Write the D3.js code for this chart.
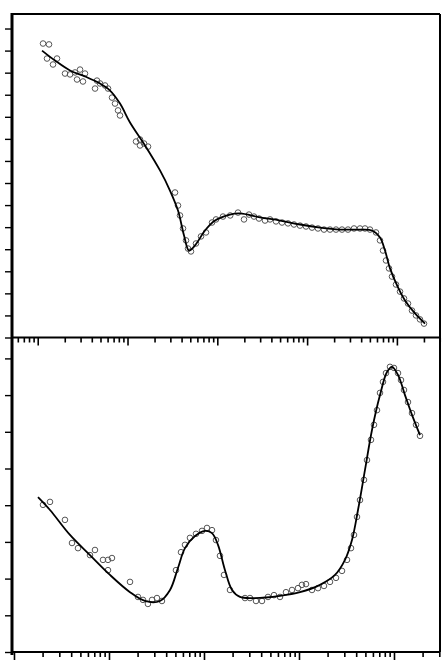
<!DOCTYPE html>
<html><head><meta charset="utf-8">
<script src="https://cdn.jsdelivr.net/npm/d3@7"></script>
<style>html,body{margin:0;padding:0;background:#fff;}svg{display:block;}</style>
</head><body>
<svg id="c" width="447" height="661"></svg>
<script>
// ---------- DATA ----------
// Top panel: fitted curve
const topCurveX = [1.117,1.558,2.29,3.36,4.94,6.39,8.25,10.66,15.66,23.0,29.7,36.5,42.6,48.4,56.4,73.0,94.3,138.5,178.9,298.9,499,833,1392,2324,3882,5281,6482,7372,8380,10285,12310,15910,20560];
const topCurveY = [13.0,12.55,12.10,11.83,11.51,11.19,10.60,9.74,8.70,7.57,6.66,5.75,4.62,3.94,4.17,4.85,5.30,5.57,5.62,5.44,5.30,5.12,4.98,4.89,4.89,4.85,4.53,3.94,3.13,2.27,1.68,1.09,0.63];
// Top panel: measured points
const topPtsX = [1.146,1.336,1.269,1.480,1.640,2.014,2.29,2.60,2.96,3.36,2.74,3.19,4.35,4.57,4.94,5.62,6.07,6.72,7.26,7.84,8.25,12.44,13.78,15.27,16.92,13.78,33.8,36.5,38.4,41.5,44.8,47.2,50.9,57.9,65.8,74.8,87.3,96.7,115.7,139.2,170,198.3,225.4,256.3,291.3,339.8,386.3,450.6,525.5,612.8,714.7,833,972,1134,1322,1542,1799,2098,2447,2854,3330,3882,4414,5016,5852,6482,7003,7560,8166,8818,9772,10827,12000,13290,14730,16320,18080,20040];
const topPtsY = [13.32,13.28,12.64,12.37,12.64,11.96,11.92,12.01,12.14,11.96,11.69,11.60,11.28,11.64,11.51,11.42,11.28,10.87,10.60,10.29,10.06,8.88,8.70,8.79,8.65,8.97,6.57,5.98,5.53,4.94,4.40,4.03,3.90,4.26,4.58,4.76,5.21,5.35,5.48,5.53,5.66,5.35,5.57,5.48,5.39,5.30,5.35,5.26,5.21,5.17,5.12,5.07,5.03,4.98,4.94,4.89,4.89,4.89,4.89,4.89,4.94,4.94,4.94,4.89,4.76,4.40,3.94,3.49,3.13,2.76,2.40,2.08,1.77,1.54,1.22,1.00,0.82,0.63];
// Bottom panel: fitted curve
const botCurveX = [1.789,2.393,3.886,6.31,10.24,16.64,23.93,34.4,43.9,53.2,63.1,80.4,102.4,121.4,140.4,166.4,197.2,239.3,344.2,631,1024,1664,2393,3050,3613,4180,4951,5867,7122,8440,9526,11020,13057,15470,18780];
const botCurveY = [4.22,3.87,3.19,2.64,2.10,1.63,1.39,1.39,1.69,2.29,2.83,3.16,3.30,3.24,2.92,2.23,1.69,1.50,1.47,1.53,1.63,1.83,2.10,2.51,3.05,3.87,4.96,6.05,7.00,7.63,7.77,7.55,7.00,6.46,5.91];
// Bottom panel: measured points
const botPtsX = [2.02,2.393,3.44,4.08,4.72,6.31,7.12,8.65,9.76,10.75,9.76,16.64,20.2,22.8,25.7,28.4,32.0,36.1,50.7,57.3,63.1,71.2,82.4,95.3,107.5,121.4,133.7,147.4,162.4,187.8,270.2,304.9,352.7,407.9,471.7,545.6,631,729.8,844,976,1075,1185,1370,1585,1833,2120,2452,2836,3201,3527,3793,4079,4387,4833,5197,5727,6158,6623,7122,7659,8237,9077,10000,11020,11850,12740,14040,15470,17050,18780];
const botPtsY = [4.01,4.09,3.60,2.97,2.83,2.64,2.78,2.51,2.51,2.56,2.23,1.91,1.50,1.42,1.31,1.42,1.47,1.39,2.23,2.72,2.92,3.11,3.22,3.30,3.38,3.32,3.05,2.62,2.10,1.69,1.47,1.47,1.39,1.39,1.50,1.55,1.50,1.63,1.69,1.74,1.83,1.85,1.69,1.74,1.80,1.91,2.02,2.21,2.51,2.83,3.19,3.68,4.14,4.69,5.23,5.78,6.19,6.59,7.06,7.36,7.60,7.77,7.74,7.60,7.41,7.14,6.81,6.51,6.19,5.89];
// Y tick values
const topYTicks = d3.range(0, 15, 1);
const botYTicks = d3.range(0, 9, 1);

// ---------- LAYOUT ----------
const L = 12, R = 440, T = 14, M = 337.5, B = 652;
const svg = d3.select("#c");

const xTop = d3.scaleLog().domain([0.517, 30200]).range([L, R]);
const xBot = d3.scaleLog().domain([0.953, 30500]).range([L, R]);
const yTop = d3.scaleLinear().domain([0, (M - T) / 22.07]).range([M, T]);
const yBot = d3.scaleLinear().domain([0, (B - M) / 36.7]).range([B, M]);

function isMajor(v){ const l = Math.log10(v); return Math.abs(l - Math.round(l)) < 1e-9; }

function xAxis(scale, y){
  const g = svg.append("g").attr("transform", `translate(0,${y})`)
    .call(d3.axisBottom(scale).tickValues(scale.ticks()).tickFormat("").tickSizeOuter(0).tickSize(5));
  g.select(".domain").remove();
  g.selectAll(".tick line").attr("stroke", "#000").attr("stroke-width", 1.6)
    .attr("y2", d => isMajor(d) ? 8 : 5);
}
function yAxis(scale, ticks){
  const g = svg.append("g").attr("transform", `translate(${L},0)`)
    .call(d3.axisLeft(scale).tickValues(ticks).tickFormat("").tickSizeOuter(0).tickSize(7));
  g.select(".domain").remove();
  g.selectAll(".tick line").attr("stroke", "#000").attr("stroke-width", 1.4);
}
yAxis(yTop, topYTicks);
yAxis(yBot, botYTicks);
xAxis(xTop, M);
xAxis(xBot, B);

// frame
const frame = svg.append("g").attr("stroke", "#000").attr("fill", "none");
frame.append("line").attr("x1", L).attr("x2", R).attr("y1", T).attr("y2", T).attr("stroke-width", 2);
frame.append("line").attr("x1", R).attr("x2", R).attr("y1", T).attr("y2", B).attr("stroke-width", 2);
frame.append("line").attr("x1", L).attr("x2", R).attr("y1", M).attr("y2", M).attr("stroke-width", 2);
frame.append("line").attr("x1", L).attr("x2", R).attr("y1", B).attr("y2", B).attr("stroke-width", 2);
frame.append("line").attr("x1", L).attr("x2", L).attr("y1", T - 1).attr("y2", B + 3).attr("stroke-width", 3);

function panel(xs, ys, cx, cy, px, py){
  const line = d3.line().x((d,i) => xs(cx[i])).y((d,i) => ys(cy[i])).curve(d3.curveCatmullRom.alpha(0.5));
  svg.append("g").selectAll("circle").data(px).join("circle")
    .attr("cx", (d,i) => xs(px[i])).attr("cy", (d,i) => ys(py[i])).attr("r", 2.8)
    .attr("fill", "none").attr("stroke", "#555").attr("stroke-width", 1);
  svg.append("path").datum(cx).attr("d", line).attr("fill", "none")
    .attr("stroke", "#000").attr("stroke-width", 1.8).attr("stroke-linejoin", "round");
}
panel(xTop, yTop, topCurveX, topCurveY, topPtsX, topPtsY);
panel(xBot, yBot, botCurveX, botCurveY, botPtsX, botPtsY);
</script>
</body></html>
